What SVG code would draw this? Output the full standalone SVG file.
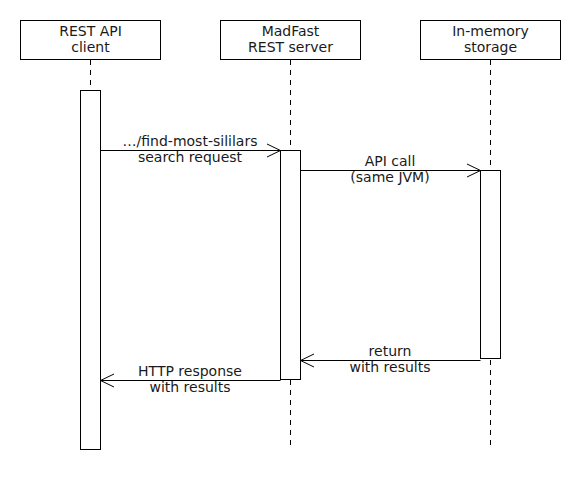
<svg xmlns="http://www.w3.org/2000/svg" width="580" height="490" viewBox="0 0 580 490">
<defs>
<style>
.box{fill:#fff;stroke:#000;stroke-width:1}
.life{stroke:#000;stroke-width:1;stroke-dasharray:5,5;fill:none}
.act{fill:#fff;stroke:#000;stroke-width:1}
.msg{stroke:#000;stroke-width:1;fill:none}
.head{stroke:#000;stroke-width:1;fill:none}
text{font-family:"DejaVu Sans",sans-serif;font-size:14px;fill:#1a1a1a;text-anchor:middle}
</style>
</defs>
<rect width="580" height="490" fill="#fff"/>
<g id="lifelines">
<line class="life" x1="90.5" y1="60" x2="90.5" y2="90"/>
<line class="life" x1="290.5" y1="60" x2="290.5" y2="450"/>
<line class="life" x1="490.5" y1="60" x2="490.5" y2="450"/>
</g>
<g id="client">
<rect class="box" x="20.5" y="20.5" width="140" height="39"/>
<text x="90.5" y="36">REST API</text>
<text x="90.5" y="52">client</text>
<rect class="act" x="80.5" y="90.5" width="20" height="359"/>
</g>
<g id="server">
<rect class="box" x="220.5" y="20.5" width="140" height="39"/>
<text x="290.5" y="36">MadFast</text>
<text x="290.5" y="52">REST server</text>
<rect class="act" x="280.5" y="150.5" width="20" height="229"/>
</g>
<g id="storage">
<rect class="box" x="420.5" y="20.5" width="140" height="39"/>
<text x="490.5" y="36">In-memory</text>
<text x="490.5" y="52">storage</text>
<rect class="act" x="480.5" y="170.5" width="20" height="188"/>
</g>
<g id="connectors">
<line class="msg" x1="100.5" y1="150.5" x2="280.5" y2="150.5"/>
<polyline class="head" points="267,144 280.5,150.5 267,157"/>
<text x="190" y="146">…/find-most-sililars</text>
<text x="190" y="162">search request</text>
<line class="msg" x1="300.5" y1="170.5" x2="480.5" y2="170.5"/>
<polyline class="head" points="467,164 480.5,170.5 467,177"/>
<text x="390" y="166">API call</text>
<text x="390" y="182">(same JVM)</text>
<line class="msg" x1="480.5" y1="360.5" x2="300.5" y2="360.5"/>
<polyline class="head" points="314,354 300.5,360.5 314,367"/>
<text x="390" y="356">return</text>
<text x="390" y="372">with results</text>
<line class="msg" x1="280.5" y1="380.5" x2="100.5" y2="380.5"/>
<polyline class="head" points="114,374 100.5,380.5 114,387"/>
<text x="190" y="376">HTTP response</text>
<text x="190" y="392">with results</text>
</g>
</svg>
